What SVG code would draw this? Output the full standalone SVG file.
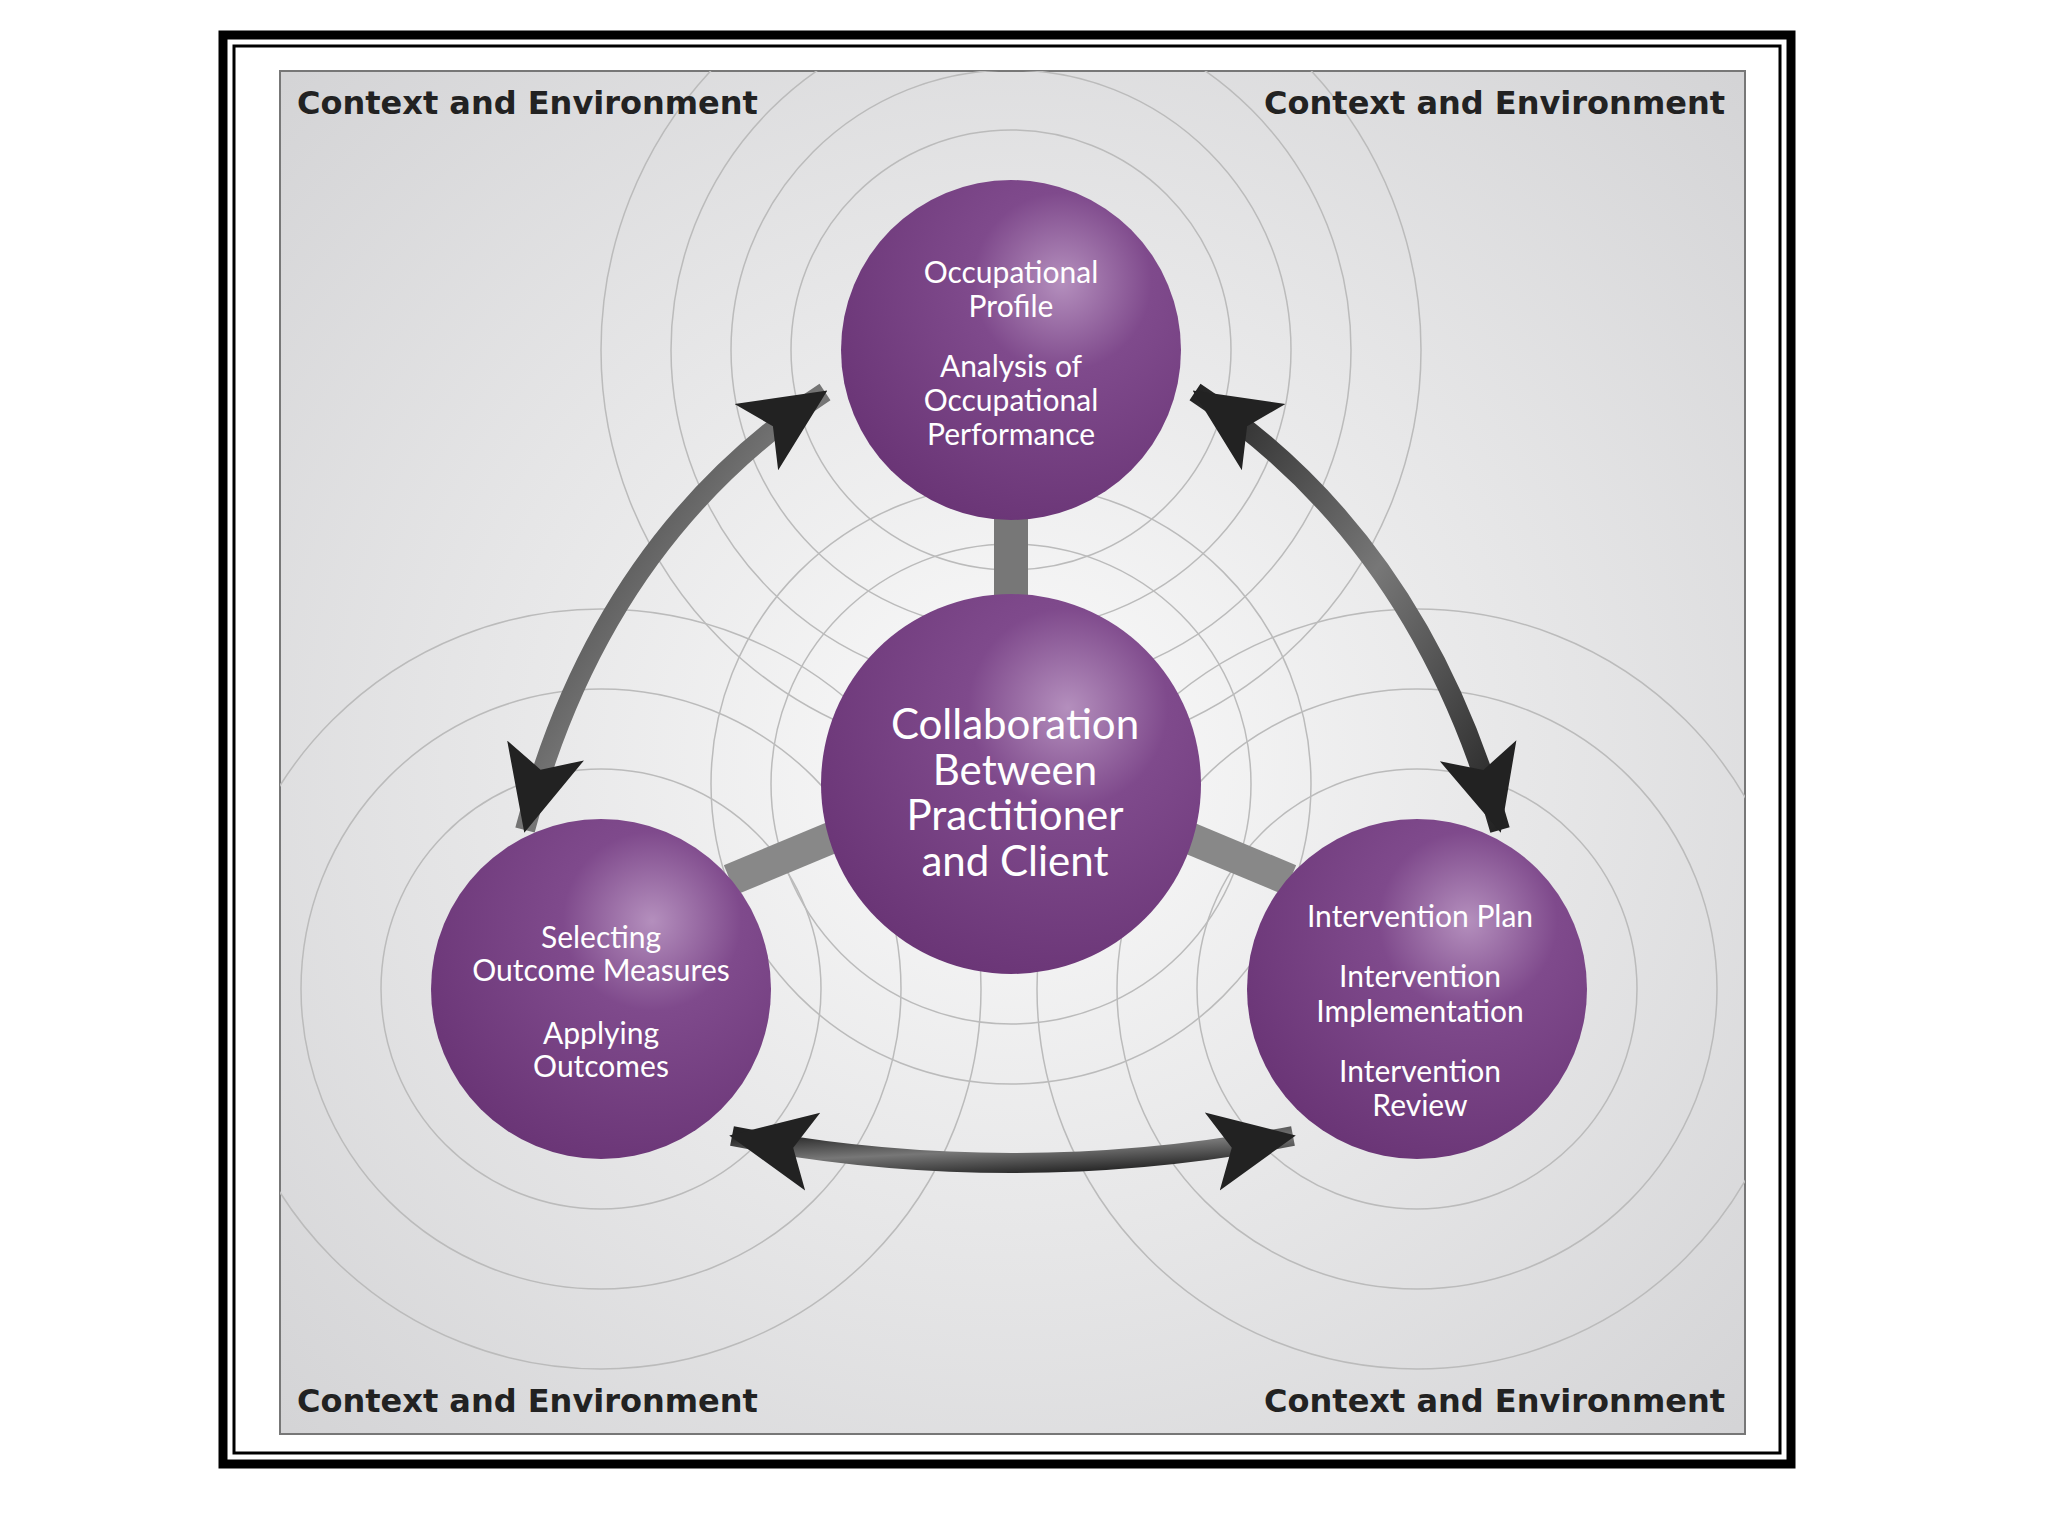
<svg xmlns="http://www.w3.org/2000/svg" width="2048" height="1536" viewBox="0 0 2048 1536">
<style>
.ctx{font-family:"DejaVu Sans",sans-serif;font-weight:bold;font-size:32px;fill:#222}
.nt{font-family:Lato,"Open Sans",sans-serif;font-size:30px;fill:#fff;text-anchor:middle}
.ct{font-family:Lato,"Open Sans",sans-serif;font-size:42px;fill:#fff;text-anchor:middle}
.ring{fill:none;stroke:#bbb;stroke-width:1.5}
.arr{fill:none;stroke:url(#ag);stroke-width:20}
</style>
<defs>
<clipPath id="fr"><rect x="280" y="71" width="1465" height="1363"/></clipPath>
<radialGradient id="bg" cx="50%" cy="50%" r="70%"><stop offset="0" stop-color="#fafafa"/><stop offset="1" stop-color="#d4d4d6"/></radialGradient>
<radialGradient id="pg" cx="65%" cy="30%" r="75%"><stop offset="0" stop-color="#b48fbd"/><stop offset="0.35" stop-color="#7f4a8c"/><stop offset="1" stop-color="#6a3576"/></radialGradient>
<linearGradient id="ag" x1="0" y1="0" x2="1" y2="1"><stop offset="0" stop-color="#222"/><stop offset="0.5" stop-color="#777"/><stop offset="1" stop-color="#222"/></linearGradient>
<marker id="ah" viewBox="0 0 60 60" refX="58" refY="30" markerWidth="85" markerHeight="85" markerUnits="userSpaceOnUse" orient="auto-start-reverse"><path d="M0,2 L60,30 L0,58 L14,30 Z" fill="#222"/></marker>
</defs>
<rect width="2048" height="1536" fill="#fff"/>
<rect x="223" y="35" width="1568" height="1429" fill="#fff" stroke="#000" stroke-width="9"/>
<rect x="234" y="46" width="1546" height="1407" fill="none" stroke="#000" stroke-width="3"/>
<rect x="280" y="71" width="1465" height="1363" fill="url(#bg)" stroke="#777" stroke-width="2"/>
<g clip-path="url(#fr)">
<circle class="ring" cx="1011" cy="350" r="220"/><circle class="ring" cx="1011" cy="350" r="280"/><circle class="ring" cx="1011" cy="350" r="340"/><circle class="ring" cx="1011" cy="350" r="410"/>
<circle class="ring" cx="601" cy="989" r="220"/><circle class="ring" cx="601" cy="989" r="300"/><circle class="ring" cx="601" cy="989" r="380"/>
<circle class="ring" cx="1417" cy="989" r="220"/><circle class="ring" cx="1417" cy="989" r="300"/><circle class="ring" cx="1417" cy="989" r="380"/>
<circle class="ring" cx="1011" cy="784" r="240"/><circle class="ring" cx="1011" cy="784" r="300"/>
</g>
<text class="ctx" x="297" y="114">Context and Environment</text>
<text class="ctx" x="1725" y="114" text-anchor="end">Context and Environment</text>
<text class="ctx" x="297" y="1412">Context and Environment</text>
<text class="ctx" x="1725" y="1412" text-anchor="end">Context and Environment</text>
<g id="connectors">
<line x1="1011" y1="500" x2="1011" y2="620" stroke="#777" stroke-width="34"/>
<line x1="730" y1="880" x2="850" y2="830" stroke="#888" stroke-width="32"/>
<line x1="1290" y1="880" x2="1170" y2="830" stroke="#888" stroke-width="32"/>
<path class="arr" d="M525,830 Q600,540 825,392" marker-start="url(#ah)" marker-end="url(#ah)"/>
<path class="arr" d="M1195,392 Q1420,540 1500,830" marker-start="url(#ah)" marker-end="url(#ah)"/>
<path class="arr" d="M732,1136 Q1011,1190 1293,1136" marker-start="url(#ah)" marker-end="url(#ah)"/>
</g>
<g id="top"><circle cx="1011" cy="350" r="170" fill="url(#pg)"/>
<text class="nt" x="1011" y="283">Occupational</text><text class="nt" x="1011" y="317">Profile</text>
<text class="nt" x="1011" y="377">Analysis of</text><text class="nt" x="1011" y="411">Occupational</text><text class="nt" x="1011" y="445">Performance</text></g>
<g id="center"><circle cx="1011" cy="784" r="190" fill="url(#pg)"/>
<text class="ct" x="1015" y="739">Collaboration</text><text class="ct" x="1015" y="785">Between</text><text class="ct" x="1015" y="830">Practitioner</text><text class="ct" x="1015" y="876">and Client</text></g>
<g id="left"><circle cx="601" cy="989" r="170" fill="url(#pg)"/>
<text class="nt" x="601" y="948">Selecting</text><text class="nt" x="601" y="981">Outcome Measures</text>
<text class="nt" x="601" y="1044">Applying</text><text class="nt" x="601" y="1077">Outcomes</text></g>
<g id="right"><circle cx="1417" cy="989" r="170" fill="url(#pg)"/>
<text class="nt" x="1420" y="927">Intervention Plan</text><text class="nt" x="1420" y="987">Intervention</text><text class="nt" x="1420" y="1022">Implementation</text>
<text class="nt" x="1420" y="1082">Intervention</text><text class="nt" x="1420" y="1116">Review</text></g>
</svg>
